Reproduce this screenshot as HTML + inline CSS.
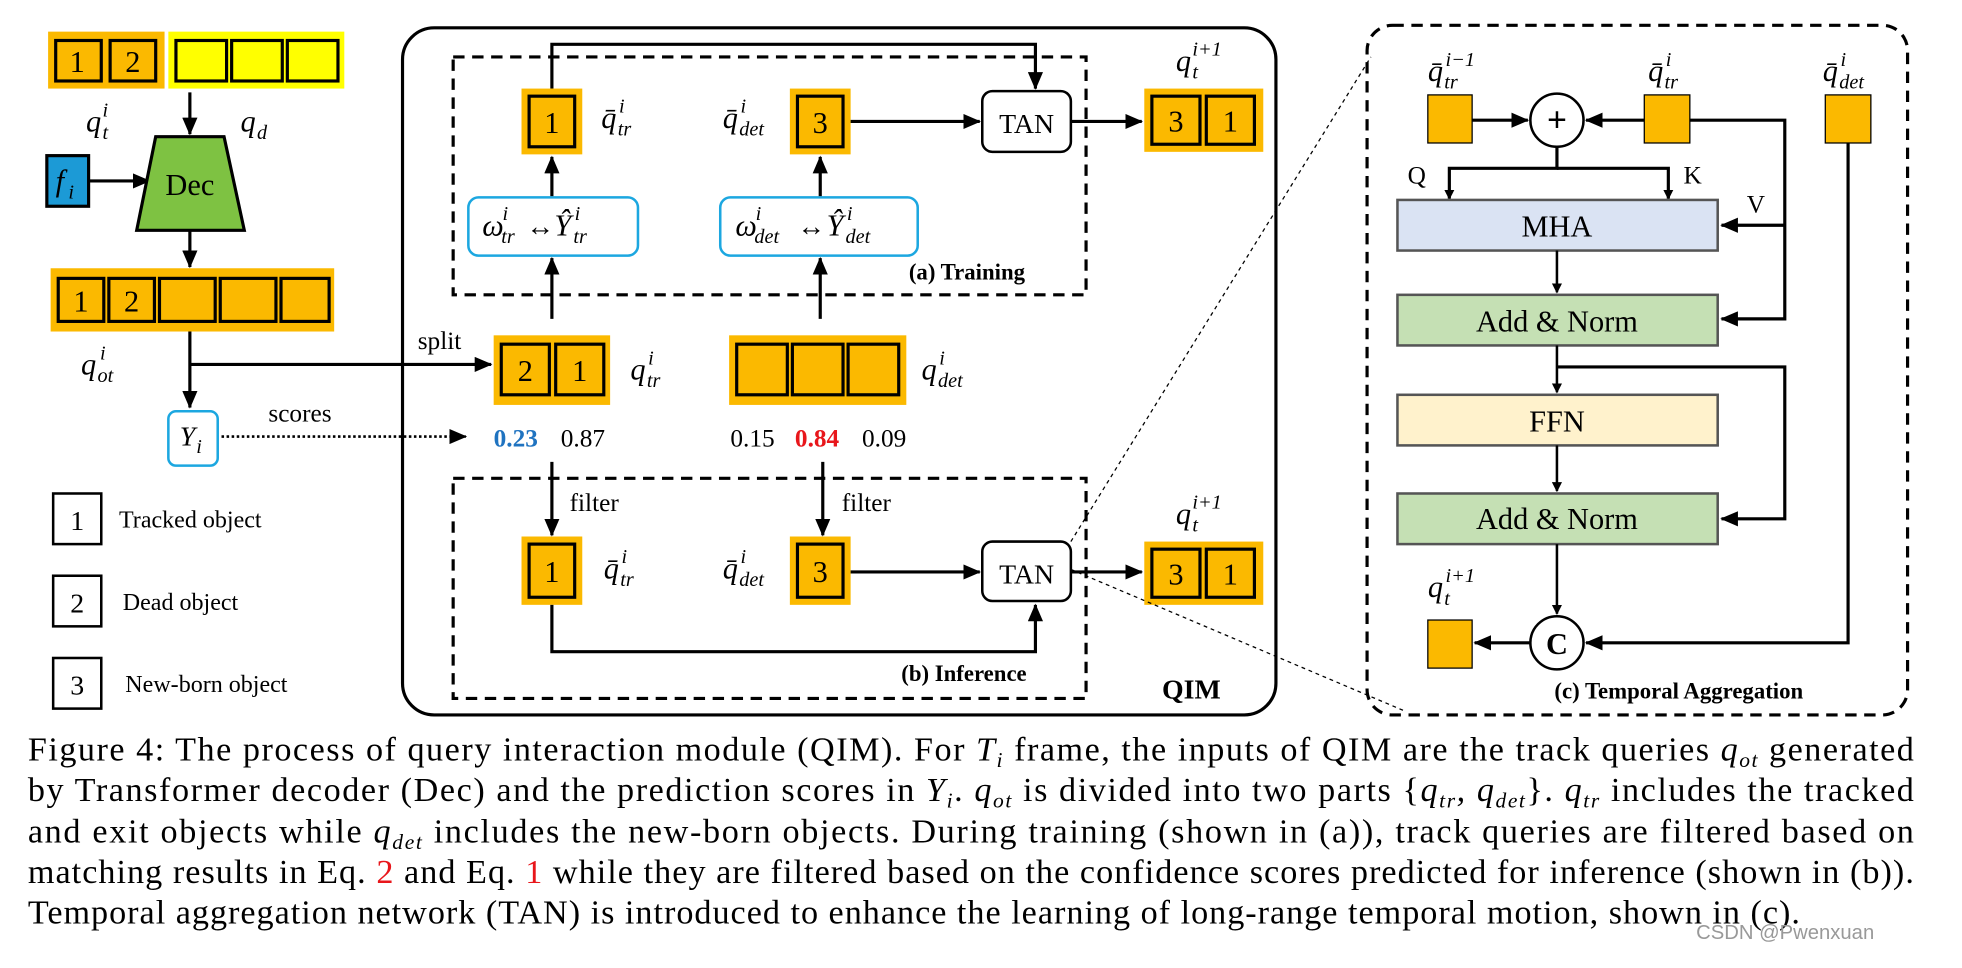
<!DOCTYPE html>
<html><head><meta charset="utf-8"><style>html,body{margin:0;padding:0;background:#fff}svg{display:block}text{font-family:"Liberation Serif","Times New Roman",Times,"Nimbus Roman",serif}</style></head><body>
<svg width="1962" height="968" viewBox="0 0 1550 765" preserveAspectRatio="none" xmlns="http://www.w3.org/2000/svg">
<defs><marker id="a" markerWidth="8" markerHeight="8" refX="7" refY="4" orient="auto" markerUnits="userSpaceOnUse"><path d="M0,0 L8,4 L0,8 Z" fill="#000"/></marker>
<marker id="b" markerWidth="14" markerHeight="12" refX="13" refY="6" orient="auto" markerUnits="userSpaceOnUse"><path d="M0,0 L14,6 L0,12 Z" fill="#000"/></marker></defs>
<g stroke="#000" stroke-width="2.5" fill="none">
<rect x="38" y="25" width="92" height="45" fill="#fbb900" stroke="none"/>
<rect x="133" y="25" width="139" height="45" fill="#ffff00" stroke="none"/>
<rect x="44" y="32" width="36" height="32" /><rect x="87" y="32" width="36" height="32"/>
<rect x="139" y="32" width="40" height="32"/><rect x="183" y="32" width="40" height="32"/><rect x="227" y="32" width="40" height="32"/>
<line x1="150" y1="73" x2="150" y2="106" marker-end="url(#b)"/>
<rect x="37" y="123" width="33" height="40" fill="#1c9ad6"/>
<line x1="70" y1="143" x2="118" y2="143" marker-end="url(#b)"/>
<path d="M123,108 L177,108 L193,182 L108,182 Z" fill="#7ec242"/>
<line x1="150" y1="182" x2="150" y2="211" marker-end="url(#b)"/>
<rect x="40" y="212" width="224" height="50" fill="#fbb900" stroke="none"/>
<rect x="46" y="220" width="36" height="34"/><rect x="86" y="220" width="36" height="34"/><rect x="126" y="220" width="44" height="34"/><rect x="174" y="220" width="44" height="34"/><rect x="222" y="220" width="38" height="34"/>
<line x1="150" y1="262" x2="150" y2="322" marker-end="url(#b)"/>
<line x1="150" y1="288" x2="388" y2="288" marker-end="url(#b)"/>
<rect x="133" y="325" width="39" height="43" rx="6" stroke="#1ca7e0" stroke-width="2"/>
<line x1="175" y1="345" x2="368" y2="345" stroke-dasharray="2,2" stroke-width="2" marker-end="url(#b)"/>
<rect x="42" y="390" width="38" height="40" stroke-width="2"/><rect x="42" y="455" width="38" height="40" stroke-width="2"/><rect x="42" y="520" width="38" height="40" stroke-width="2"/>
<rect x="318" y="22" width="690" height="543" rx="25"/>
<rect x="358" y="45" width="500" height="188" stroke-dasharray="9,6"/>
<rect x="358" y="378" width="500" height="174" stroke-dasharray="9,6"/>
<path d="M436,70 L436,35 L818,35 L818,70" marker-end="url(#b)"/>
<rect x="412" y="70" width="48" height="52" fill="#fbb900" stroke="none"/><rect x="418" y="76" width="36" height="40"/>
<rect x="624" y="70" width="48" height="52" fill="#fbb900" stroke="none"/><rect x="630" y="76" width="36" height="40"/>
<rect x="776" y="72" width="70" height="48" rx="8" stroke-width="2"/>
<line x1="672" y1="96" x2="774" y2="96" marker-end="url(#b)"/>
<line x1="846" y1="96" x2="902" y2="96" marker-end="url(#b)"/>
<rect x="904" y="70" width="94" height="50" fill="#fbb900" stroke="none"/><rect x="910" y="76" width="38" height="38"/><rect x="953" y="76" width="38" height="38"/>
<rect x="370" y="156" width="134" height="46" rx="8" stroke="#1ca7e0" stroke-width="2"/>
<rect x="569" y="156" width="156" height="46" rx="8" stroke="#1ca7e0" stroke-width="2"/>
<line x1="436" y1="155" x2="436" y2="124" marker-end="url(#b)"/><line x1="648" y1="155" x2="648" y2="124" marker-end="url(#b)"/>
<line x1="436" y1="252" x2="436" y2="204" marker-end="url(#b)"/><line x1="648" y1="252" x2="648" y2="204" marker-end="url(#b)"/>
<rect x="390" y="265" width="92" height="55" fill="#fbb900" stroke="none"/><rect x="396" y="272" width="38" height="40"/><rect x="439" y="272" width="38" height="40"/>
<rect x="576" y="265" width="140" height="55" fill="#fbb900" stroke="none"/><rect x="582" y="272" width="40" height="40"/><rect x="626" y="272" width="40" height="40"/><rect x="670" y="272" width="40" height="40"/>
<line x1="436" y1="365" x2="436" y2="423" marker-end="url(#b)"/><line x1="650" y1="365" x2="650" y2="423" marker-end="url(#b)"/>
<rect x="412" y="424" width="48" height="54" fill="#fbb900" stroke="none"/><rect x="418" y="430" width="36" height="42"/>
<rect x="624" y="424" width="48" height="54" fill="#fbb900" stroke="none"/><rect x="630" y="430" width="36" height="42"/>
<rect x="776" y="428" width="70" height="47" rx="8" stroke-width="2"/>
<line x1="672" y1="452" x2="774" y2="452" marker-end="url(#b)"/>
<line x1="846" y1="452" x2="902" y2="452" marker-end="url(#b)"/>
<rect x="904" y="428" width="94" height="50" fill="#fbb900" stroke="none"/><rect x="910" y="434" width="38" height="38"/><rect x="953" y="434" width="38" height="38"/>
<path d="M436,478 L436,515 L818,515 L818,478" marker-end="url(#b)"/>
<line x1="846" y1="428" x2="1083" y2="45" stroke-width="1" stroke-dasharray="3,3"/>
<line x1="846" y1="450" x2="1110" y2="562" stroke-width="1" stroke-dasharray="3,3"/>
<rect x="1080" y="20" width="427" height="545" rx="20" stroke-dasharray="9,6"/>
<rect x="1128" y="75" width="35" height="38" fill="#fbb900" stroke="#000" stroke-width="1"/>
<rect x="1299" y="75" width="36" height="38" fill="#fbb900" stroke="#000" stroke-width="1"/>
<rect x="1442" y="75" width="36" height="38" fill="#fbb900" stroke="#000" stroke-width="1"/>
<circle cx="1230" cy="95" r="21" stroke-width="2"/>
<line x1="1163" y1="95" x2="1207" y2="95" marker-end="url(#b)"/>
<line x1="1299" y1="95" x2="1253" y2="95" marker-end="url(#b)"/>
<path d="M1230,116 L1230,133 L1145,133 L1145,157" marker-end="url(#a)"/>
<path d="M1230,133 L1318,133 L1318,157" marker-end="url(#a)"/>
<path d="M1335,95 L1410,95 L1410,252 L1360,252" marker-end="url(#b)"/>
<line x1="1410" y1="178" x2="1360" y2="178" marker-end="url(#b)"/>
<rect x="1104" y="158" width="253" height="40" fill="#dae3f3" stroke="#555" stroke-width="2"/>
<rect x="1104" y="233" width="253" height="40" fill="#c5e0b4" stroke="#555" stroke-width="2"/>
<rect x="1104" y="312" width="253" height="40" fill="#fff2cc" stroke="#555" stroke-width="2"/>
<rect x="1104" y="390" width="253" height="40" fill="#c5e0b4" stroke="#555" stroke-width="2"/>
<line x1="1230" y1="198" x2="1230" y2="231" stroke-width="2" marker-end="url(#a)"/>
<line x1="1230" y1="273" x2="1230" y2="310" stroke-width="2" marker-end="url(#a)"/>
<line x1="1230" y1="352" x2="1230" y2="388" stroke-width="2" marker-end="url(#a)"/>
<line x1="1230" y1="430" x2="1230" y2="485" stroke-width="2" marker-end="url(#a)"/>
<path d="M1230,290 L1410,290 L1410,410 L1360,410" marker-end="url(#b)"/>
<circle cx="1230" cy="508" r="21" stroke-width="2"/>
<path d="M1460,113 L1460,508 L1253,508" marker-end="url(#b)"/>
<line x1="1209" y1="508" x2="1165" y2="508" marker-end="url(#b)"/>
<rect x="1128" y="490" width="35" height="38" fill="#fbb900" stroke="#000" stroke-width="1"/>
</g>
<g font-size="24" text-anchor="middle" fill="#000">
<text x="61" y="57">1</text><text x="105" y="57">2</text>
<text x="64" y="246">1</text><text x="104" y="246">2</text>
<text x="436" y="105">1</text><text x="648" y="105">3</text><text x="929" y="104">3</text><text x="972" y="104">1</text>
<text x="415" y="301">2</text><text x="458" y="301">1</text>
<text x="436" y="460">1</text><text x="648" y="460">3</text><text x="929" y="462">3</text><text x="972" y="462">1</text>
<text x="61" y="419" font-size="22">1</text><text x="61" y="484" font-size="22">2</text><text x="61" y="549" font-size="22">3</text>
<text x="150" y="154" font-size="24">Dec</text>
<text x="811" y="105" font-size="22">TAN</text><text x="811" y="461" font-size="22">TAN</text>
<text x="1230" y="187" font-size="24">MHA</text><text x="1230" y="262" font-size="24">Add &amp; Norm</text>
<text x="1230" y="341" font-size="24">FFN</text><text x="1230" y="418" font-size="24">Add &amp; Norm</text>
<text x="1230" y="104" font-size="28" font-weight="bold">+</text><text x="1230" y="517" font-size="24" font-weight="bold">C</text>
</g>
<g fill="#000" font-style="italic">
<g font-size="24"><text x="68" y="104">q</text><text x="190" y="104">q</text><text x="44" y="151">f</text><text x="64" y="296">q</text><text x="142" y="352" font-size="22">Y</text>
<text x="475" y="101">q̄</text><text x="571" y="101">q̄</text><text x="929" y="56">q</text>
<text x="498" y="300">q</text><text x="728" y="300">q</text>
<text x="477" y="457">q̄</text><text x="571" y="457">q̄</text><text x="929" y="414">q</text>
<text x="1128" y="64">q̄</text><text x="1302" y="64">q̄</text><text x="1440" y="64">q̄</text><text x="1128" y="472">q</text>
<text x="381" y="186">ω</text><text x="438" y="186">Ŷ</text>
<text x="581" y="186">ω</text><text x="653" y="186">Ŷ</text></g>
<g font-size="22" font-style="normal"><text x="416" y="186">↔</text><text x="630" y="186">↔</text></g>
<g font-size="16">
<text x="81" y="110">t</text><text x="81" y="92">i</text>
<text x="203" y="110">d</text>
<text x="54" y="157">i</text>
<text x="77" y="302">ot</text><text x="79" y="284">i</text>
<text x="155" y="358">i</text>
<text x="488" y="107">tr</text><text x="489" y="89">i</text>
<text x="584" y="107">det</text><text x="585" y="89">i</text>
<text x="942" y="62">t</text><text x="942" y="44">i+1</text>
<text x="511" y="306">tr</text><text x="512" y="288">i</text>
<text x="741" y="306">det</text><text x="742" y="288">i</text>
<text x="490" y="463">tr</text><text x="491" y="445">i</text>
<text x="584" y="463">det</text><text x="585" y="445">i</text>
<text x="942" y="420">t</text><text x="942" y="402">i+1</text>
<text x="1141" y="70">tr</text><text x="1142" y="52">i−1</text>
<text x="1315" y="70">tr</text><text x="1316" y="52">i</text>
<text x="1453" y="70">det</text><text x="1454" y="52">i</text>
<text x="1141" y="478">t</text><text x="1142" y="460">i+1</text>
<text x="396" y="192">tr</text><text x="397" y="174">i</text>
<text x="453" y="192">tr</text><text x="454" y="174">i</text>
<text x="596" y="192">det</text><text x="597" y="174">i</text>
<text x="668" y="192">det</text><text x="669" y="174">i</text>
</g></g>
<g font-size="20" fill="#000">
<text x="330" y="276">split</text><text x="212" y="333">scores</text>
<text x="450" y="404">filter</text><text x="665" y="404">filter</text>
<text x="94" y="417" font-size="19">Tracked object</text><text x="97" y="482" font-size="19">Dead object</text><text x="99" y="547" font-size="19">New-born object</text>
<text x="1112" y="145">Q</text><text x="1330" y="145">K</text><text x="1380" y="168">V</text>
<text x="390" y="353" fill="#1f73c0" font-weight="bold">0.23</text><text x="443" y="353">0.87</text>
<text x="577" y="353">0.15</text><text x="628" y="353" fill="#e8161b" font-weight="bold">0.84</text><text x="681" y="353">0.09</text>
<text x="718" y="221" font-size="18" font-weight="bold">(a) Training</text>
<text x="712" y="538" font-size="18" font-weight="bold">(b) Inference</text>
<text x="918" y="552" font-size="22" font-weight="bold">QIM</text>
<text x="1228" y="552" font-size="18" font-weight="bold">(c) Temporal Aggregation</text>
</g>
<g font-size="27" fill="#000">
<text x="22" y="601" textLength="1490" lengthAdjust="spacing">Figure 4: The process of query interaction module (QIM). For <tspan font-style="italic">T<tspan font-size="17" dy="5">i</tspan></tspan><tspan dy="-5"> frame, the inputs of QIM are the track queries </tspan><tspan font-style="italic">q<tspan font-size="17" dy="5">ot</tspan></tspan><tspan dy="-5"> generated</tspan></text>
<text x="22" y="633" textLength="1490" lengthAdjust="spacing">by Transformer decoder (Dec) and the prediction scores in <tspan font-style="italic">Y<tspan font-size="17" dy="5">i</tspan></tspan><tspan dy="-5">. </tspan><tspan font-style="italic">q<tspan font-size="17" dy="5">ot</tspan></tspan><tspan dy="-5"> is divided into two parts {</tspan><tspan font-style="italic">q<tspan font-size="17" dy="5">tr</tspan><tspan dy="-5">, q</tspan><tspan font-size="17" dy="5">det</tspan></tspan><tspan dy="-5">}. </tspan><tspan font-style="italic">q<tspan font-size="17" dy="5">tr</tspan></tspan><tspan dy="-5"> includes the tracked</tspan></text>
<text x="22" y="666" textLength="1490" lengthAdjust="spacing">and exit objects while <tspan font-style="italic">q<tspan font-size="17" dy="5">det</tspan></tspan><tspan dy="-5"> includes the new-born objects. During training (shown in (a)), track queries are filtered based on</tspan></text>
<text x="22" y="698" textLength="1490" lengthAdjust="spacing">matching results in Eq. <tspan fill="#e8161b">2</tspan> and Eq. <tspan fill="#e8161b">1</tspan> while they are filtered based on the confidence scores predicted for inference (shown in (b)).</text>
<text x="22" y="730" textLength="1400" lengthAdjust="spacing">Temporal aggregation network (TAN) is introduced to enhance the learning of long-range temporal motion, shown in (c).</text>
</g>
<text x="1340" y="742" style="font-family:'Liberation Sans',sans-serif" font-size="16" fill="#999">CSDN @Pwenxuan</text>
</svg>
</body></html>
